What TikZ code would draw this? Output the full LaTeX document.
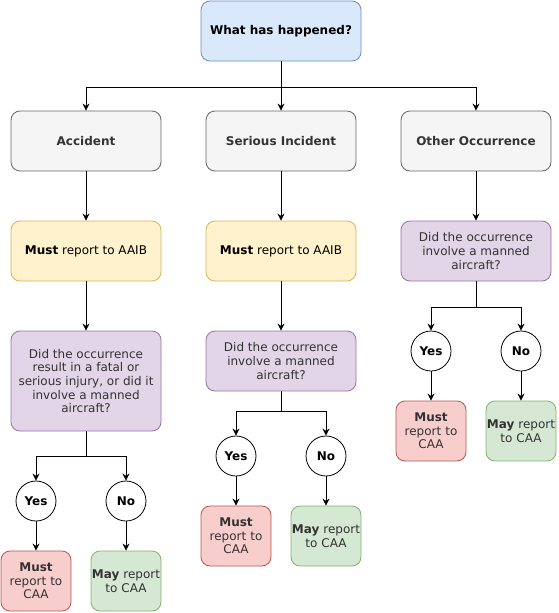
\documentclass[tikz,border=0pt]{standalone}
\usepackage{fontspec}
\setmainfont{DejaVu Sans}
\usetikzlibrary{arrows.meta,positioning}
\definecolor{bluef}{HTML}{DAE8FC}\definecolor{blued}{HTML}{6C8EBF}
\definecolor{grayf}{HTML}{F5F5F5}\definecolor{grayd}{HTML}{666666}\definecolor{grayt}{HTML}{333333}
\definecolor{yelf}{HTML}{FFF2CC}\definecolor{yeld}{HTML}{D6B656}
\definecolor{purf}{HTML}{E1D5E7}\definecolor{purd}{HTML}{9673A6}
\definecolor{redf}{HTML}{F8CECC}\definecolor{redd}{HTML}{B85450}
\definecolor{grnf}{HTML}{D5E8D4}\definecolor{grnd}{HTML}{82B366}
\tikzset{
  x=1pt,y=-1pt,
  fnt/.style={font=\fontsize{12}{13.6}\selectfont},
  base/.style={rounded corners=9pt,line width=0.8pt,align=center,inner sep=2pt,fnt},
  topbox/.style={base,fill=bluef,draw=blued,minimum width=160pt,minimum height=60pt,font=\fontsize{12}{13.6}\selectfont\bfseries},
  catbox/.style={base,fill=grayf,draw=grayd,text=grayt,minimum width=150pt,minimum height=60pt,font=\fontsize{12}{13.6}\selectfont\bfseries},
  yelbox/.style={base,fill=yelf,draw=yeld,minimum width=150pt,minimum height=60pt},
  purbox/.style={base,fill=purf,draw=purd,text=grayt,minimum width=150pt},
  smallbox/.style={base,inner xsep=0pt,text width=70pt,minimum width=70pt,minimum height=60pt,text=grayt},
  redbox/.style={smallbox,fill=redf,draw=redd},
  grnbox/.style={smallbox,fill=grnf,draw=grnd},
  ans/.style={circle,draw,fill=white,line width=0.8pt,minimum size=40pt,inner sep=0pt,font=\fontsize{12}{13.6}\selectfont\bfseries},
  arr/.style={line width=0.8pt,-{Stealth[length=7pt,width=7pt]}}
}
\begin{document}
\begin{tikzpicture}
\useasboundingbox (0,0) rectangle (558,613);
\node[topbox] (top) at (281,31) {What has happened?};
\node[catbox] (acc) at (86,141) {Accident};
\node[catbox] (ser) at (281,141) {Serious Incident};
\node[catbox] (oth) at (476,141) {Other Occurrence};
\node[yelbox] (m1) at (86,251) {\textbf{Must} report to AAIB};
\node[yelbox] (m2) at (281,251) {\textbf{Must} report to AAIB};
\node[purbox,minimum height=60pt] (q3) at (476,251) {Did the occurrence\\involve a manned\\aircraft?};
\node[purbox,minimum height=100pt] (q1) at (86,381) {Did the occurrence\\result in a fatal or\\serious injury, or did it\\involve a manned\\aircraft?};
\node[purbox,minimum height=60pt] (q2) at (281,361) {Did the occurrence\\involve a manned\\aircraft?};
% col1
\node[ans] (y1) at (36,501) {Yes};
\node[ans] (n1) at (126,501) {No};
\node[redbox] (r1) at (36,581) {\textbf{Must}\\report to\\CAA};
\node[grnbox] (g1) at (126,581) {\textbf{May}~report\\to CAA};
% col2
\node[ans] (y2) at (236,456) {Yes};
\node[ans] (n2) at (326,456) {No};
\node[redbox] (r2) at (236,536) {\textbf{Must}\\report to\\CAA};
\node[grnbox] (g2) at (326,536) {\textbf{May}~report\\to CAA};
% col3
\node[ans] (y3) at (431,351) {Yes};
\node[ans] (n3) at (521,351) {No};
\node[redbox] (r3) at (431,431) {\textbf{Must}\\report to\\CAA};
\node[grnbox] (g3) at (521,431) {\textbf{May}~report\\to CAA};
% edges
\draw[arr] (top.south) -- ++(0,26) -| (acc.north);
\draw[arr] (top.south) -- (ser.north);
\draw[arr] (top.south) -- ++(0,26) -| (oth.north);
\draw[arr] (acc) -- (m1);
\draw[arr] (ser) -- (m2);
\draw[arr] (oth) -- (q3);
\draw[arr] (m1) -- (q1);
\draw[arr] (m2) -- (q2);
\draw[arr] (q1.south) -- ++(0,25) -| (y1.north);
\draw[arr] (q1.south) -- ++(0,25) -| (n1.north);
\draw[arr] (q2.south) -- ++(0,20) -| (y2.north);
\draw[arr] (q2.south) -- ++(0,20) -| (n2.north);
\draw[arr] (q3.south) -- ++(0,26) -| (y3.north);
\draw[arr] (q3.south) -- ++(0,26) -| (n3.north);
\draw[arr] (y1) -- (r1);
\draw[arr] (n1) -- (g1);
\draw[arr] (y2) -- (r2);
\draw[arr] (n2) -- (g2);
\draw[arr] (y3) -- (r3);
\draw[arr] (n3) -- (g3);
\end{tikzpicture}
\end{document}
